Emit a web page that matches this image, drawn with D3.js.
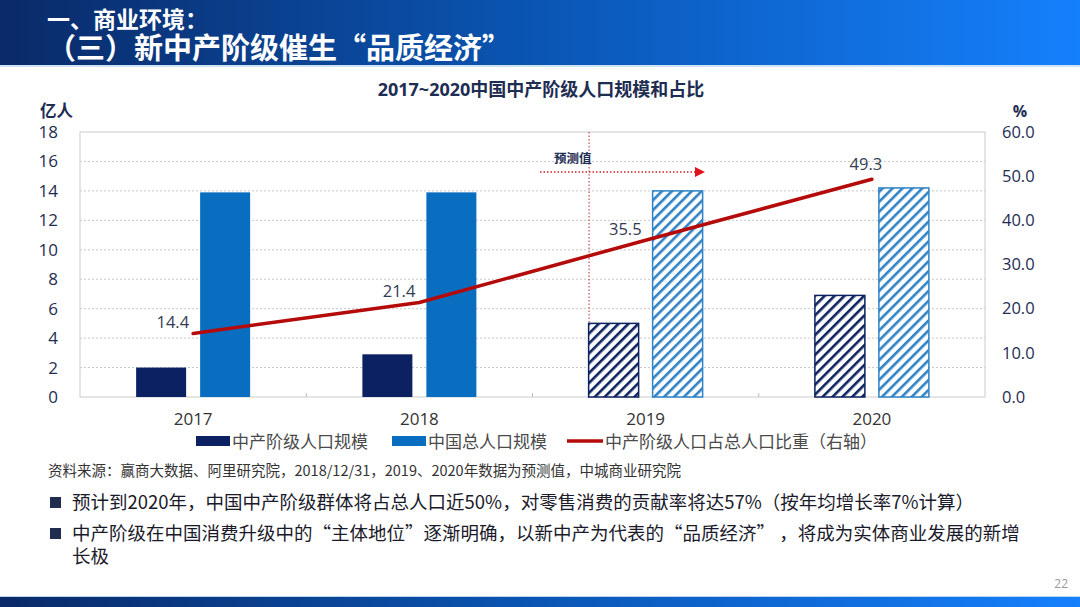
<!DOCTYPE html>
<html lang="zh">
<head>
    <meta charset="utf-8">
    <title>middle_class</title>
    <script type="text/javascript" src="https://cdn.jsdelivr.net/npm/d3@7"></script>
    <style type="text/css">
        body { margin: 0; background: #fff; }
        svg { display: block; font-family: "Open Sans", "Noto Sans CJK SC", sans-serif; }
    </style>
</head>
<body>

<script type="text/javascript">

    // data
    var years = ["2017", "2018", "2019", "2020"];
    var middle_class = [2.0, 2.9, 5.0, 6.9];      // 亿人
    var total_pop = [13.9, 13.9, 14.0, 14.2];     // 亿人
    var middle_share = [14.4, 21.4, 35.5, 49.3];  // %
    var forecast = [false, false, true, true];
    var left_ticks = [0, 2, 4, 6, 8, 10, 12, 14, 16, 18];
    var right_ticks = [0, 10, 20, 30, 40, 50, 60];
    var legend_names = ["中产阶级人口规模", "中国总人口规模", "中产阶级人口占总人口比重（右轴）"];

    var w = 1080;
    var h = 607;

    var dark = "#0c2161";
    var blue = "#0a6ec0";
    var red = "#b40a0a";
    var navy_text = "#1e2d52";

    var plot = { left: 80, right: 985, top: 132, bottom: 397 };

    var svg = d3.select("body")
        .append("svg")
        .attr("width", w)
        .attr("height", h);

    var defs = svg.append("defs");

    // header + footer gradients
    var g1 = defs.append("linearGradient").attr("id", "head_grad");
    g1.append("stop").attr("offset", "0%").attr("stop-color", "#0a2a68");
    g1.append("stop").attr("offset", "50%").attr("stop-color", "#0a56b4");
    g1.append("stop").attr("offset", "100%").attr("stop-color", "#1580fc");

    function hatch(id, color) {
        var p = defs.append("pattern")
            .attr("id", id)
            .attr("patternUnits", "userSpaceOnUse")
            .attr("width", 7)
            .attr("height", 7)
            .attr("patternTransform", "rotate(45)");
        p.append("rect").attr("width", 7).attr("height", 7).attr("fill", "#fff");
        p.append("rect").attr("x", 0).attr("width", 2.6).attr("height", 7).attr("fill", color);
    }
    hatch("hatch_dark", dark);
    hatch("hatch_blue", "#2f82c6");

    svg.append("rect")
        .attr("x", 0).attr("y", 0)
        .attr("width", w).attr("height", 65)
        .attr("fill", "url(#head_grad)");
    svg.append("rect")
        .attr("x", 0).attr("y", 65)
        .attr("width", w).attr("height", 2)
        .attr("fill", "#cfe3f7");

    svg.append("text")
        .attr("x", 47).attr("y", 28)
        .attr("fill", "#fff")
        .attr("font-size", 23)
        .attr("font-weight", "bold")
        .attr("font-family", "Noto Sans CJK SC")
        .text("一、商业环境：");
    svg.append("text")
        .attr("x", 47).attr("y", 59)
        .attr("fill", "#fff")
        .attr("font-size", 29)
        .attr("font-weight", "bold")
        .attr("font-family", "Noto Sans CJK SC")
        .text("（三）新中产阶级催生“品质经济”");

    svg.append("rect")
        .attr("x", 0).attr("y", 597)
        .attr("width", w).attr("height", 10)
        .attr("fill", "url(#head_grad)");
    svg.append("rect")
        .attr("x", 0).attr("y", 596)
        .attr("width", w).attr("height", 1)
        .attr("fill", "#bcd6ef");

    svg.append("text")
        .attr("x", 1068).attr("y", 588)
        .attr("text-anchor", "end")
        .attr("fill", "#999")
        .attr("font-size", 12)
        .text("22");

    // chart title
    svg.append("text")
        .attr("x", 541).attr("y", 96)
        .attr("text-anchor", "middle")
        .attr("fill", navy_text)
        .attr("font-size", 18)
        .attr("font-weight", "bold")
        .text("2017~2020中国中产阶级人口规模和占比");

    var xScale = d3.scaleBand()
        .domain(years)
        .range([plot.left, plot.right]);

    var yLeft = d3.scaleLinear()
        .domain([0, 18])
        .range([plot.bottom, plot.top]);

    var yRight = d3.scaleLinear()
        .domain([0, 60])
        .range([plot.bottom, plot.top]);

    // gridlines
    svg.append("g")
        .selectAll("line")
        .data(left_ticks.slice(1, -1))
        .enter()
        .append("line")
        .attr("x1", plot.left).attr("x2", plot.right)
        .attr("y1", function(d) { return yLeft(d); })
        .attr("y2", function(d) { return yLeft(d); })
        .attr("stroke", "#c8c8c8")
        .attr("stroke-width", 1)
        .attr("stroke-dasharray", "2,2");

    svg.append("rect")
        .attr("x", plot.left).attr("y", plot.top)
        .attr("width", plot.right - plot.left)
        .attr("height", plot.bottom - plot.top)
        .attr("fill", "none")
        .attr("stroke", "#d4d4d4")
        .attr("stroke-width", 1.2);

    // small ticks between categories
    svg.append("g")
        .selectAll("line")
        .data(years.slice(1))
        .enter()
        .append("line")
        .attr("x1", function(d) { return xScale(d); })
        .attr("x2", function(d) { return xScale(d); })
        .attr("y1", plot.bottom - 4).attr("y2", plot.bottom)
        .attr("stroke", "#bbb");

    // axes
    var leftAxis = d3.axisLeft(yLeft).tickValues(left_ticks).tickSize(0).tickPadding(0);
    var gl = svg.append("g")
        .attr("transform", "translate(58,0)")
        .call(leftAxis);
    gl.select(".domain").remove();
    gl.selectAll("text")
        .attr("fill", navy_text)
        .attr("font-size", 17)
        .attr("font-family", "Open Sans");

    var rightAxis = d3.axisRight(yRight).tickValues(right_ticks).tickSize(0).tickPadding(0)
        .tickFormat(d3.format(".1f"));
    var gr = svg.append("g")
        .attr("transform", "translate(1002,0)")
        .call(rightAxis);
    gr.select(".domain").remove();
    gr.selectAll("text")
        .attr("fill", navy_text)
        .attr("font-size", 16.5)
        .attr("font-family", "Open Sans");

    var bottomAxis = d3.axisBottom(xScale).tickSize(0).tickPadding(0);
    var gb = svg.append("g")
        .attr("transform", "translate(0,413)")
        .call(bottomAxis);
    gb.select(".domain").remove();
    gb.selectAll("text")
        .attr("fill", "#333")
        .attr("font-size", 17)
        .attr("font-family", "Open Sans");

    svg.append("text")
        .attr("x", 40).attr("y", 117)
        .attr("fill", navy_text)
        .attr("font-size", 16.5)
        .attr("font-weight", "bold")
        .attr("font-family", "Noto Sans CJK SC")
        .text("亿人");
    svg.append("text")
        .attr("x", 1020).attr("y", 117)
        .attr("text-anchor", "middle")
        .attr("fill", navy_text)
        .attr("font-size", 16)
        .attr("font-weight", "bold")
        .text("%");

    // forecast marker, between 2018 and 2019 groups
    var split_x = (xScale("2018") + xScale.bandwidth() + xScale("2019")) / 2 + 0.5 * xScale.bandwidth() * 0.5;
    svg.append("line")
        .attr("x1", split_x).attr("x2", split_x)
        .attr("y1", plot.top).attr("y2", plot.bottom)
        .attr("stroke", "#c0282d")
        .attr("stroke-width", 1)
        .attr("stroke-dasharray", "1.5,2");

    svg.append("text")
        .attr("x", 554).attr("y", 163)
        .attr("fill", navy_text)
        .attr("font-size", 12.5)
        .attr("font-weight", "bold")
        .attr("font-family", "Noto Sans CJK SC")
        .text("预测值");
    svg.append("line")
        .attr("x1", 540).attr("x2", 696)
        .attr("y1", 172).attr("y2", 172)
        .attr("stroke", "#d0202a")
        .attr("stroke-width", 1.6)
        .attr("stroke-dasharray", "1.5,2");
    svg.append("path")
        .attr("d", "M695,167 L705,172 L695,177 Z")
        .attr("fill", "#e0141e");

    // bars
    var bar_w = 50;
    var bar_gap = 14;

    function band_mid(i) {
        return xScale(years[i]) + xScale.bandwidth() / 2;
    }

    svg.append("g")
        .selectAll("rect")
        .data(middle_class)
        .enter()
        .append("rect")
        .attr("x", function(d, i) { return band_mid(i) - bar_gap / 2 - bar_w; })
        .attr("y", function(d) { return yLeft(d); })
        .attr("width", bar_w)
        .attr("height", function(d) { return plot.bottom - yLeft(d); })
        .attr("fill", function(d, i) { return forecast[i] ? "url(#hatch_dark)" : dark; })
        .attr("stroke", function(d, i) { return forecast[i] ? dark : "none"; })
        .attr("stroke-width", 1.5);

    svg.append("g")
        .selectAll("rect")
        .data(total_pop)
        .enter()
        .append("rect")
        .attr("x", function(d, i) { return band_mid(i) + bar_gap / 2; })
        .attr("y", function(d) { return yLeft(d); })
        .attr("width", bar_w)
        .attr("height", function(d) { return plot.bottom - yLeft(d); })
        .attr("fill", function(d, i) { return forecast[i] ? "url(#hatch_blue)" : blue; })
        .attr("stroke", function(d, i) { return forecast[i] ? "#2f82c6" : "none"; })
        .attr("stroke-width", 1.5);

    // share line
    var line = d3.line()
        .x(function(d, i) { return band_mid(i); })
        .y(function(d) { return yRight(d); });

    svg.append("path")
        .datum(middle_share)
        .attr("d", line)
        .attr("fill", "none")
        .attr("stroke", red)
        .attr("stroke-width", 3.5)
        .attr("stroke-linecap", "round")
        .attr("stroke-linejoin", "round");

    svg.append("g")
        .selectAll("text")
        .data(middle_share)
        .enter()
        .append("text")
        .attr("x", function(d, i) { return i === 3 ? band_mid(i) - 6 : band_mid(i) - 4; })
        .attr("y", function(d, i) { return yRight(d) - (i === 3 ? 9 : 5); })
        .attr("text-anchor", function(d, i) { return i === 3 ? "middle" : "end"; })
        .attr("fill", "#333c52")
        .attr("font-size", 16.5)
        .attr("font-family", "Open Sans")
        .text(function(d) { return d.toFixed(1); });

    // legend
    var legend_x = [196, 392, 567];
    var lg = svg.append("g");
    legend_names.forEach(function(name, i) {
        if (i < 2) {
            lg.append("rect")
                .attr("x", legend_x[i]).attr("y", 436)
                .attr("width", 34).attr("height", 10)
                .attr("fill", i === 0 ? dark : blue);
        } else {
            lg.append("line")
                .attr("x1", legend_x[i]).attr("x2", legend_x[i] + 36)
                .attr("y1", 441).attr("y2", 441)
                .attr("stroke", red)
                .attr("stroke-width", 3.5);
        }
        lg.append("text")
            .attr("x", legend_x[i] + (i < 2 ? 36 : 38)).attr("y", 448)
            .attr("fill", "#4a4a4a")
            .attr("font-size", 17)
            .attr("font-family", "Noto Sans CJK SC")
            .text(name);
    });

    svg.append("text")
        .attr("x", 48).attr("y", 476)
        .attr("fill", "#333")
        .attr("font-size", 14.5)
        .attr("font-family", "Noto Sans CJK SC")
        .text("资料来源：赢商大数据、阿里研究院，2018/12/31，2019、2020年数据为预测值，中城商业研究院");

    // bullet notes
    var notes = [
        ["预计到2020年，中国中产阶级群体将占总人口近50%，对零售消费的贡献率将达57%（按年均增长率7%计算）"],
        ["中产阶级在中国消费升级中的“主体地位”逐渐明确，以新中产为代表的“品质经济” ，将成为实体商业发展的新增", "长极"]
    ];
    var note_y = [509, 540];
    notes.forEach(function(lines, i) {
        svg.append("rect")
            .attr("x", 50).attr("y", note_y[i] - 12)
            .attr("width", 11).attr("height", 11)
            .attr("fill", "#1f2d50");
        lines.forEach(function(t, j) {
            svg.append("text")
                .attr("x", 72).attr("y", note_y[i] + j * 23)
                .attr("fill", "#1a1a2a")
                .attr("font-size", 18.5)
                .attr("font-family", "Noto Sans CJK SC")
                .text(t);
        });
    });

</script>
</body>
</html>
